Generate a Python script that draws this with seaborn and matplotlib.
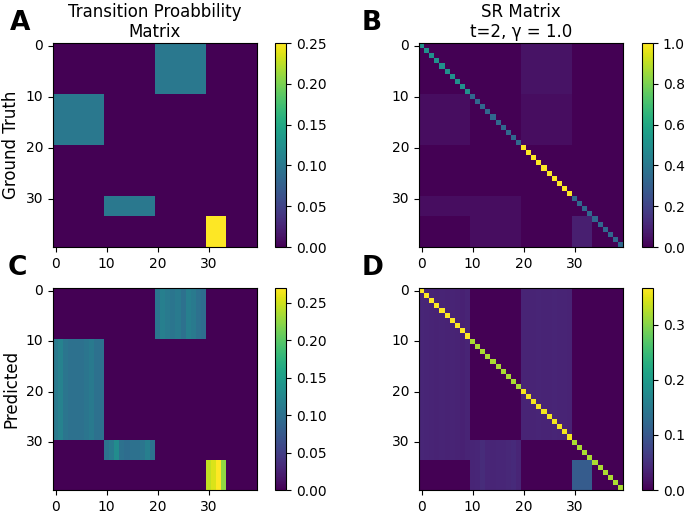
import numpy as np
import matplotlib
matplotlib.use("Agg")
import matplotlib.pyplot as plt
import seaborn as sns

N = 40
tick_pos = [0, 10, 20, 30]

# ground truth transition blocks: (row0, row1, col0, col1, value)
gt_blocks = [(0, 10, 20, 30, 0.10), (10, 20, 0, 10, 0.10),
             (30, 34, 10, 20, 0.10), (34, 40, 30, 34, 0.25)]

# predicted transition blocks, one value per column
pred_top_cols = [0.105, 0.115, 0.11, 0.105, 0.11, 0.10, 0.115, 0.11, 0.10, 0.095]
pred_left_cols = [0.11, 0.12, 0.105, 0.10, 0.10, 0.10, 0.105, 0.11, 0.10, 0.10]
pred_mid_cols = [0.10, 0.11, 0.13, 0.10, 0.095, 0.10, 0.10, 0.105, 0.115, 0.10]
pred_corner_cols = [0.245, 0.255, 0.27, 0.225]

# SR ground truth: diagonal per group of 10 states + off-diagonal blocks
sr_gt_diag = [0.5, 0.333, 1.0, 0.333]
sr_gt_blocks = [(0, 10, 20, 30, 0.05), (10, 20, 0, 10, 0.033), (10, 20, 20, 30, 0.033),
                (30, 34, 0, 10, 0.033), (30, 34, 10, 20, 0.033),
                (34, 40, 10, 20, 0.033), (34, 40, 30, 34, 0.083)]

# SR predicted
sr_pred_diag = [0.367, 0.32, 0.36, 0.32]
sr_pred_left_cols = [0.04, 0.038, 0.036, 0.035, 0.037, 0.035, 0.036, 0.035, 0.034, 0.036]
sr_pred_third_cols = [0.036, 0.037, 0.036, 0.038, 0.037, 0.036, 0.038, 0.037, 0.036, 0.035]
sr_pred_mid_cols = [0.038, 0.04, 0.045, 0.04, 0.038, 0.04, 0.039, 0.041, 0.044, 0.038]
sr_pred_corner = 0.105


def from_blocks(blocks):
    m = np.zeros((N, N))
    for r0, r1, c0, c1, v in blocks:
        m[r0:r1, c0:c1] = v
    return m


T_gt = from_blocks(gt_blocks)

T_pred = np.zeros((N, N))
T_pred[0:10, 20:30] = pred_top_cols
T_pred[10:30, 0:10] = pred_left_cols
T_pred[30:34, 10:20] = pred_mid_cols
T_pred[34:40, 30:34] = pred_corner_cols

SR_gt = from_blocks(sr_gt_blocks)
SR_gt[np.arange(N), np.arange(N)] = np.repeat(sr_gt_diag, 10)

SR_pred = np.zeros((N, N))
SR_pred[0:34, 0:10] = sr_pred_left_cols
SR_pred[0:30, 20:30] = sr_pred_third_cols
SR_pred[30:40, 10:20] = sr_pred_mid_cols
SR_pred[34:40, 30:34] = sr_pred_corner
SR_pred[np.arange(N), np.arange(N)] = np.repeat(sr_pred_diag, 10)

plt.rcParams["font.family"] = ["DejaVu Sans"]
fig = plt.figure(figsize=(6.85, 5.14), dpi=100)

W, H = 685, 514


def box(x0, y0, w, h):
    return [x0 / W, 1 - (y0 + h) / H, w / W, h / H]


panels = [
    (T_gt, box(53, 43, 204, 204), box(275, 43, 11, 204), [0, 0.05, 0.1, 0.15, 0.2, 0.25], "%.2f"),
    (SR_gt, box(419, 43, 204, 204), box(642, 43, 11, 204), [0, 0.2, 0.4, 0.6, 0.8, 1.0], "%.1f"),
    (T_pred, box(53, 288, 204, 202), box(275, 288, 11, 202), [0, 0.05, 0.1, 0.15, 0.2, 0.25], "%.2f"),
    (SR_pred, box(419, 288, 204, 202), box(642, 288, 11, 202), [0, 0.1, 0.2, 0.3], "%.1f"),
]

axes = []
for mat, apos, cpos, cticks, fmt in panels:
    ax = fig.add_axes(apos)
    cax = fig.add_axes(cpos)
    sns.heatmap(mat, ax=ax, cbar_ax=cax, cmap="viridis", vmin=0, vmax=mat.max(),
                cbar_kws={"ticks": cticks, "format": fmt})
    ax.set_xticks([p + 0.5 for p in tick_pos])
    ax.set_xticklabels(tick_pos, rotation=0, fontsize=10)
    ax.set_yticks([p + 0.5 for p in tick_pos])
    ax.set_yticklabels(tick_pos, rotation=0, fontsize=10)
    ax.tick_params(length=3.5, width=0.8)
    for s in ax.spines.values():
        s.set_visible(True)
        s.set_linewidth(0.8)
    cb = ax.collections[0].colorbar
    cb.outline.set_visible(True)
    cb.outline.set_linewidth(0.8)
    cax.tick_params(labelsize=10, length=3.5, width=0.8)
    axes.append(ax)

axes[0].set_title("Transition Proabbility\nMatrix", fontsize=12, pad=4)
axes[1].set_title("SR Matrix\nt=2, \u03b3 = 1.0", fontsize=12, pad=4)
axes[0].set_ylabel("Ground Truth", fontsize=12)
axes[2].set_ylabel("Predicted", fontsize=12)

for letter, x, y in [("A", 10, 30), ("B", 362, 30), ("C", 8, 275), ("D", 362, 275)]:
    fig.text(x / W, 1 - y / H, letter, fontsize=19, fontweight="bold")

fig.savefig("out.png", dpi=100)
